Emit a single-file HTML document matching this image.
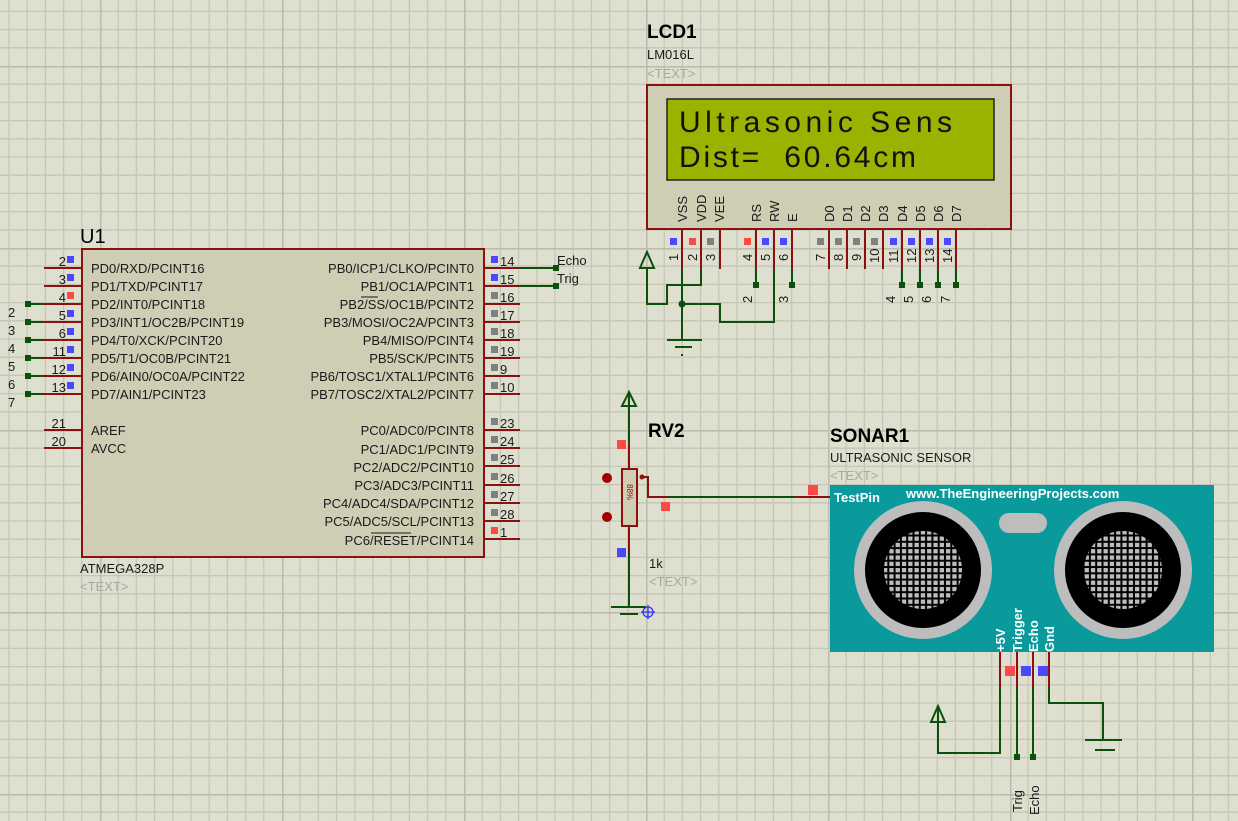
<!DOCTYPE html>
<html><head><meta charset="utf-8"><style>
html,body{margin:0;padding:0;background:#dfdfd0;}
svg{display:block;}
text{font-family:"Liberation Sans",sans-serif;}
</style></head><body>
<svg width="1238" height="821" viewBox="0 0 1238 821" xmlns="http://www.w3.org/2000/svg">
<defs>
<pattern id="g" width="182" height="182" patternUnits="userSpaceOnUse" patternTransform="translate(100,66)">
<g stroke="#c6c6b6" stroke-width="1.3">
<path d="M18.2 0V182M36.4 0V182M54.6 0V182M72.8 0V182M91 0V182M109.2 0V182M127.4 0V182M145.6 0V182M163.8 0V182"/>
<path d="M0 18.2H182M0 36.4H182M0 54.6H182M0 72.8H182M0 91H182M0 109.2H182M0 127.4H182M0 145.6H182M0 163.8H182"/>
</g>
<path d="M0.5 0V182M0 0.5H182" stroke="#bdbdad" stroke-width="2.2"/>
</pattern>
<pattern id="mesh" width="6.3" height="6.3" patternUnits="userSpaceOnUse">
<rect width="6.3" height="6.3" fill="#000"/><rect x="1" y="1" width="4.3" height="4.3" fill="#bdbdbd"/>
</pattern>
</defs>
<rect width="1238" height="821" fill="#dfdfd0"/>
<rect width="1238" height="821" fill="url(#g)"/>

<!-- U1 -->
<text x="80" y="243" font-size="20" fill="#000">U1</text>
<rect x="82" y="249" width="402" height="308" fill="#cfcdb3" stroke="#8b1010" stroke-width="2"/>
<g stroke="#8b1010" stroke-width="2">
<path d="M44 268H82M44 286H82M44 304H82M44 322H82M44 340H82M44 358H82M44 376H82M44 394H82M44 430H82M44 448H82"/>
<path d="M484 268H520M484 286H520M484 304H520M484 322H520M484 340H520M484 358H520M484 376H520M484 394H520M484 430H520M484 448H520M484 466H520M484 485H520M484 503H520M484 521H520M484 539H520"/>
</g>
<g stroke="#0b500b" stroke-width="2"><path d="M28 304H44M28 322H44M28 340H44M28 358H44M28 376H44M28 394H44M520 268H556M520 286H556"/></g>
<g fill="#0b500b"><rect x="25" y="301" width="6" height="6"/><rect x="25" y="319" width="6" height="6"/><rect x="25" y="337" width="6" height="6"/><rect x="25" y="355" width="6" height="6"/><rect x="25" y="373" width="6" height="6"/><rect x="25" y="391" width="6" height="6"/><rect x="553" y="265" width="6" height="6"/><rect x="553" y="283" width="6" height="6"/></g>
<g fill="#4848ff"><rect x="67" y="256" width="7" height="7"/><rect x="67" y="274" width="7" height="7"/><rect x="67" y="310" width="7" height="7"/><rect x="67" y="328" width="7" height="7"/><rect x="67" y="346" width="7" height="7"/><rect x="67" y="364" width="7" height="7"/><rect x="67" y="382" width="7" height="7"/><rect x="491" y="256" width="7" height="7"/><rect x="491" y="274" width="7" height="7"/></g>
<rect x="67" y="292" width="7" height="7" fill="#ff4848"/>
<g fill="#808080"><rect x="491" y="292" width="7" height="7"/><rect x="491" y="310" width="7" height="7"/><rect x="491" y="328" width="7" height="7"/><rect x="491" y="346" width="7" height="7"/><rect x="491" y="364" width="7" height="7"/><rect x="491" y="382" width="7" height="7"/><rect x="491" y="418" width="7" height="7"/><rect x="491" y="436" width="7" height="7"/><rect x="491" y="454" width="7" height="7"/><rect x="491" y="473" width="7" height="7"/><rect x="491" y="491" width="7" height="7"/><rect x="491" y="509" width="7" height="7"/></g>
<rect x="491" y="527" width="7" height="7" fill="#ff4848"/>
<g font-size="13" fill="#1a1a1a" text-anchor="end">
<text x="66" y="266">2</text><text x="66" y="284">3</text><text x="66" y="302">4</text><text x="66" y="320">5</text><text x="66" y="338">6</text><text x="66" y="356">11</text><text x="66" y="374">12</text><text x="66" y="392">13</text><text x="66" y="428">21</text><text x="66" y="446">20</text>
</g>
<g font-size="13" fill="#1a1a1a">
<text x="8" y="317">2</text><text x="8" y="335">3</text><text x="8" y="353">4</text><text x="8" y="371">5</text><text x="8" y="389">6</text><text x="8" y="407">7</text>
<text x="500" y="266">14</text><text x="500" y="284">15</text><text x="500" y="302">16</text><text x="500" y="320">17</text><text x="500" y="338">18</text><text x="500" y="356">19</text><text x="500" y="374">9</text><text x="500" y="392">10</text><text x="500" y="428">23</text><text x="500" y="446">24</text><text x="500" y="464">25</text><text x="500" y="483">26</text><text x="500" y="501">27</text><text x="500" y="519">28</text><text x="500" y="537">1</text>
<text x="557" y="265">Echo</text><text x="557" y="283">Trig</text>
<text x="91" y="273">PD0/RXD/PCINT16</text><text x="91" y="291">PD1/TXD/PCINT17</text><text x="91" y="309">PD2/INT0/PCINT18</text><text x="91" y="327">PD3/INT1/OC2B/PCINT19</text><text x="91" y="345">PD4/T0/XCK/PCINT20</text><text x="91" y="363">PD5/T1/OC0B/PCINT21</text><text x="91" y="381">PD6/AIN0/OC0A/PCINT22</text><text x="91" y="399">PD7/AIN1/PCINT23</text><text x="91" y="435">AREF</text><text x="91" y="453">AVCC</text>
<text x="80" y="573">ATMEGA328P</text><text x="80" y="591" fill="#a8a8a0">&lt;TEXT&gt;</text>
</g>
<g font-size="13" fill="#1a1a1a" text-anchor="end">
<text x="474" y="273">PB0/ICP1/CLKO/PCINT0</text><text x="474" y="291">PB1/OC1A/PCINT1</text><text x="474" y="309">PB2/SS/OC1B/PCINT2</text><text x="474" y="327">PB3/MOSI/OC2A/PCINT3</text><text x="474" y="345">PB4/MISO/PCINT4</text><text x="474" y="363">PB5/SCK/PCINT5</text><text x="474" y="381">PB6/TOSC1/XTAL1/PCINT6</text><text x="474" y="399">PB7/TOSC2/XTAL2/PCINT7</text>
<text x="474" y="435">PC0/ADC0/PCINT8</text><text x="474" y="454">PC1/ADC1/PCINT9</text><text x="474" y="472">PC2/ADC2/PCINT10</text><text x="474" y="490">PC3/ADC3/PCINT11</text><text x="474" y="508">PC4/ADC4/SDA/PCINT12</text><text x="474" y="526">PC5/ADC5/SCL/PCINT13</text><text x="474" y="545">PC6/RESET/PCINT14</text>
</g>
<path d="M361 297H378M371 533H411" stroke="#1a1a1a" stroke-width="1"/>

<!-- LCD -->
<text x="647" y="38" font-size="19" font-weight="bold" fill="#000">LCD1</text>
<text x="647" y="59" font-size="13" fill="#1a1a1a">LM016L</text>
<text x="647" y="78" font-size="13" fill="#a8a8a0">&lt;TEXT&gt;</text>
<rect x="647" y="85" width="364" height="144" fill="#cfcdb3" stroke="#8b1010" stroke-width="2"/>
<rect x="667" y="99" width="327" height="81" fill="#99b300" stroke="#222" stroke-width="1.5"/>
<text x="679" y="132" font-family="Liberation Mono,monospace" font-size="30" fill="#111" textLength="273">Ultrasonic Sens</text>
<text x="679" y="167" font-family="Liberation Mono,monospace" font-size="30" fill="#111" textLength="237" xml:space="preserve">Dist=  60.64cm</text>
<g font-size="13" fill="#1a1a1a">
<text transform="translate(687,222) rotate(-90)">VSS</text><text transform="translate(706,222) rotate(-90)">VDD</text><text transform="translate(724,222) rotate(-90)">VEE</text>
<text transform="translate(761,222) rotate(-90)">RS</text><text transform="translate(779,222) rotate(-90)">RW</text><text transform="translate(797,222) rotate(-90)">E</text>
<text transform="translate(834,222) rotate(-90)">D0</text><text transform="translate(852,222) rotate(-90)">D1</text><text transform="translate(870,222) rotate(-90)">D2</text><text transform="translate(888,222) rotate(-90)">D3</text><text transform="translate(907,222) rotate(-90)">D4</text><text transform="translate(925,222) rotate(-90)">D5</text><text transform="translate(943,222) rotate(-90)">D6</text><text transform="translate(961,222) rotate(-90)">D7</text>
<text transform="translate(678,261) rotate(-90)">1</text><text transform="translate(697,261) rotate(-90)">2</text><text transform="translate(715,261) rotate(-90)">3</text><text transform="translate(752,261) rotate(-90)">4</text><text transform="translate(770,261) rotate(-90)">5</text><text transform="translate(788,261) rotate(-90)">6</text><text transform="translate(825,261) rotate(-90)">7</text><text transform="translate(843,261) rotate(-90)">8</text><text transform="translate(861,261) rotate(-90)">9</text><text transform="translate(879,263) rotate(-90)">10</text><text transform="translate(898,263) rotate(-90)">11</text><text transform="translate(916,263) rotate(-90)">12</text><text transform="translate(934,263) rotate(-90)">13</text><text transform="translate(952,263) rotate(-90)">14</text>
<text transform="translate(752,303) rotate(-90)">2</text><text transform="translate(788,303) rotate(-90)">3</text><text transform="translate(895,303) rotate(-90)">4</text><text transform="translate(913,303) rotate(-90)">5</text><text transform="translate(931,303) rotate(-90)">6</text><text transform="translate(950,303) rotate(-90)">7</text>
</g>
<g stroke="#8b1010" stroke-width="2"><path d="M682 229V269M701 229V269M720 229V269M756 229V269M774 229V269M792 229V269M829 229V269M847 229V269M865 229V269M883 229V269M902 229V269M920 229V269M938 229V269M956 229V269"/></g>
<g fill="#4848ff"><rect x="670" y="238" width="7" height="7"/><rect x="762" y="238" width="7" height="7"/><rect x="780" y="238" width="7" height="7"/><rect x="890" y="238" width="7" height="7"/><rect x="908" y="238" width="7" height="7"/><rect x="926" y="238" width="7" height="7"/><rect x="944" y="238" width="7" height="7"/></g>
<g fill="#ff4848"><rect x="689" y="238" width="7" height="7"/><rect x="744" y="238" width="7" height="7"/></g>
<g fill="#808080"><rect x="707" y="238" width="7" height="7"/><rect x="817" y="238" width="7" height="7"/><rect x="835" y="238" width="7" height="7"/><rect x="853" y="238" width="7" height="7"/><rect x="871" y="238" width="7" height="7"/></g>
<g stroke="#0b500b" stroke-width="2" fill="none">
<path d="M682 269V340M701 269V285H667V304H647V268"/>
<path d="M682 304H720V322H774V269M756 269V285M792 269V285M902 269V285M920 269V285M938 269V285M956 269V285"/>
<path d="M640 268L647 252L654 268Z"/>
<path d="M667 340H702M675 347H692"/>
<path d="M611 607H646M620 614H638"/>
<path d="M629 392V443M629 553V607M622 406L629 392L636 406Z"/>
<path d="M667 497H795"/>
<path d="M1000 688V753H938V706M931 722L938 706L945 722Z M1017 688V756M1033 688V756M1049 688V703H1103V740M1085 740H1122M1095 750H1115"/>
</g>
<g fill="#0b500b"><circle cx="682" cy="304" r="3.5"/><rect x="753" y="282" width="6" height="6"/><rect x="789" y="282" width="6" height="6"/><rect x="899" y="282" width="6" height="6"/><rect x="917" y="282" width="6" height="6"/><rect x="935" y="282" width="6" height="6"/><rect x="953" y="282" width="6" height="6"/><rect x="1014" y="754" width="6" height="6"/><rect x="1030" y="754" width="6" height="6"/></g>
<rect x="681" y="354" width="2" height="2" fill="#0b500b"/>

<!-- RV2 -->
<text x="648" y="437" font-size="19" font-weight="bold" fill="#000">RV2</text>
<text x="649" y="568" font-size="13" fill="#1a1a1a">1k</text>
<text x="649" y="586" font-size="13" fill="#a8a8a0">&lt;TEXT&gt;</text>
<g stroke="#8b1010" stroke-width="2" fill="none">
<path d="M629 443V469M629 526V553M643 477H648V497H667M795 497H830"/>
</g>
<rect x="622" y="469" width="15" height="57" fill="#cfcdb3" stroke="#8b1010" stroke-width="2"/>
<text transform="translate(627,484) rotate(90)" font-size="8" fill="#8b1010">88%</text>
<circle cx="642" cy="477" r="2.5" fill="#8b1010"/>
<circle cx="607" cy="478" r="5" fill="#a00000"/><circle cx="607" cy="517" r="5" fill="#a00000"/>
<rect x="617" y="440" width="9" height="9" fill="#ff4848"/><rect x="661" y="502" width="9" height="9" fill="#ff4848"/><rect x="808" y="485" width="10" height="10" fill="#ff4848"/>
<rect x="617" y="548" width="9" height="9" fill="#4848ff"/>
<g stroke="#3030ff" stroke-width="1.3" fill="none"><circle cx="648" cy="612" r="5"/><path d="M641 612H655M648 605V619"/></g>

<!-- SONAR -->
<text x="830" y="442" font-size="19" font-weight="bold" fill="#000">SONAR1</text>
<text x="830" y="462" font-size="13" fill="#1a1a1a">ULTRASONIC SENSOR</text>
<text x="830" y="480" font-size="13" fill="#a8a8a0">&lt;TEXT&gt;</text>
<rect x="830" y="485" width="384" height="167" fill="#0a9a9c"/>
<circle cx="923" cy="570" r="69" fill="#bdbdbd"/><circle cx="923" cy="570" r="58" fill="#000"/><circle cx="923" cy="570" r="39" fill="url(#mesh)"/>
<circle cx="1123" cy="570" r="69" fill="#bdbdbd"/><circle cx="1123" cy="570" r="58" fill="#000"/><circle cx="1123" cy="570" r="39" fill="url(#mesh)"/>
<rect x="999" y="513" width="48" height="20" rx="10" fill="#bdbdbd"/>
<text x="906" y="498" font-size="13" font-weight="bold" fill="#fff">www.TheEngineeringProjects.com</text>
<text x="834" y="502" font-size="13" font-weight="bold" fill="#fff">TestPin</text>
<g font-size="13" font-weight="bold" fill="#fff">
<text transform="translate(1005,652) rotate(-90)">+5V</text><text transform="translate(1022,652) rotate(-90)">Trigger</text><text transform="translate(1038,652) rotate(-90)">Echo</text><text transform="translate(1054,652) rotate(-90)">Gnd</text>
</g>
<g stroke="#8b1010" stroke-width="2"><path d="M1000 652V688M1017 652V688M1033 652V688M1049 652V688"/></g>
<rect x="1005" y="666" width="10" height="10" fill="#ff4848"/><rect x="1021" y="666" width="10" height="10" fill="#4848ff"/><rect x="1038" y="666" width="10" height="10" fill="#4848ff"/>
<g font-size="13" fill="#1a1a1a"><text transform="translate(1022,812) rotate(-90)">Trig</text><text transform="translate(1039,815) rotate(-90)">Echo</text></g>
</svg>
</body></html>
